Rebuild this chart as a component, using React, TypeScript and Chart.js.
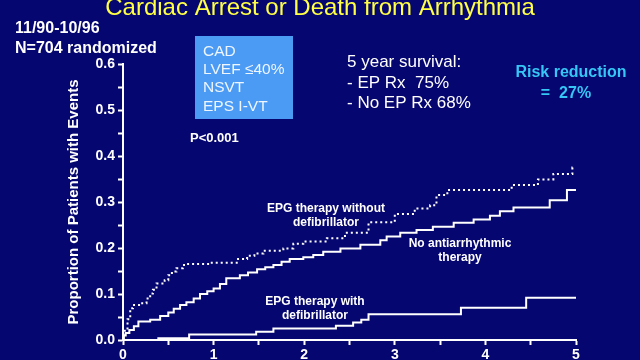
import React, { useEffect, useRef } from "react";
import { Chart, registerables } from "chart.js";

Chart.register(...registerables);

// Years of follow-up (x) and proportion of patients with events (y) at each step
const defibT = [0, 0.39, 0.73, 1.47, 1.66, 2.35, 2.54, 2.63, 2.71, 3.73, 4.45, 5.0];
const defibP = [0, 0.004, 0.012, 0.018, 0.025, 0.031, 0.038, 0.044, 0.056, 0.07, 0.092, 0.092];

const noRxT = [0, 0.01, 0.03, 0.07, 0.12, 0.17, 0.3, 0.41, 0.5, 0.56, 0.63, 0.7, 0.78, 0.85, 0.93, 1.0, 1.07, 1.14, 1.29, 1.38, 1.48, 1.57, 1.66, 1.75, 1.84, 1.99, 2.1, 2.21, 2.4, 2.62, 2.84, 2.91, 3.06, 3.24, 3.42, 3.65, 3.87, 4.05, 4.16, 4.31, 4.71, 4.9, 5.0];
const noRxP = [0, 0.01, 0.015, 0.022, 0.03, 0.04, 0.044, 0.052, 0.06, 0.068, 0.076, 0.082, 0.09, 0.1, 0.106, 0.112, 0.122, 0.134, 0.141, 0.147, 0.154, 0.158, 0.163, 0.17, 0.176, 0.18, 0.185, 0.192, 0.199, 0.207, 0.217, 0.225, 0.233, 0.239, 0.246, 0.255, 0.262, 0.27, 0.28, 0.288, 0.304, 0.326, 0.326];

const epgT = [0, 0.01, 0.02, 0.05, 0.08, 0.11, 0.2, 0.26, 0.3, 0.33, 0.37, 0.46, 0.5, 0.54, 0.59, 0.66, 0.7, 0.98, 1.27, 1.37, 1.45, 1.55, 1.77, 1.88, 1.99, 2.25, 2.45, 2.71, 3.0, 3.22, 3.39, 3.46, 3.58, 4.29, 4.58, 4.75, 4.96, 4.98];
const epgP = [0, 0.012, 0.025, 0.045, 0.069, 0.076, 0.08, 0.09, 0.101, 0.109, 0.123, 0.13, 0.141, 0.149, 0.156, 0.163, 0.165, 0.168, 0.176, 0.183, 0.188, 0.194, 0.199, 0.209, 0.214, 0.221, 0.233, 0.256, 0.274, 0.286, 0.293, 0.315, 0.326, 0.337, 0.349, 0.361, 0.375, 0.375];

const xMin = 0;
const xMax = 5;
const yMin = 0;
const yMax = 0.6;

const titleText = "Cardiac Arrest or Death from Arrhythmia";
const yAxisTitle = "Proportion of Patients with Events";
const headerLines = ["11/90-10/96", "N=704 randomized"];
const criteriaLines = ["CAD", "LVEF \u226440%", "NSVT", "EPS I-VT"];
const survivalLines = ["5 year survival:", "- EP Rx  75%", "- No EP Rx 68%"];
const riskLines = ["Risk reduction", "=  27%"];
const pValue = "P<0.001";
const epgLabel = ["EPG therapy without", "defibrillator"];
const noRxLabel = ["No antiarrhythmic", "therapy"];
const defibLabel = ["EPG therapy with", "defibrillator"];

const BG = "#060670";
const FONT = "'Liberation Sans', Arial, Helvetica, sans-serif";

const toPts = (t: number[], p: number[]) => t.map((x, i) => ({ x, y: p[i] }));

const annotations = {
  id: "annotations",
  beforeDraw(chart: any) {
    const ctx = chart.ctx;
    ctx.save();
    ctx.fillStyle = BG;
    ctx.fillRect(0, 0, chart.width, chart.height);
    ctx.restore();
  },
  afterDraw(chart: any) {
    const ctx = chart.ctx;
    ctx.save();

    // title
    ctx.fillStyle = "#ffff44";
    ctx.font = `24px ${FONT}`;
    ctx.textAlign = "center";
    ctx.textBaseline = "alphabetic";
    ctx.fillText(titleText, 320, 15);
    ctx.textBaseline = "middle";

    // header
    ctx.fillStyle = "#ffffff";
    ctx.font = `bold 16px ${FONT}`;
    ctx.textAlign = "left";
    ctx.fillText(headerLines[0], 15, 29);
    ctx.fillText(headerLines[1], 15, 49);

    // criteria box
    ctx.fillStyle = "#4b9bf5";
    ctx.fillRect(195, 36, 98, 83);
    ctx.fillStyle = "#eef6ff";
    ctx.font = `15.5px ${FONT}`;
    const cy = [51.5, 69.5, 88, 106.5];
    criteriaLines.forEach((s, i) => ctx.fillText(s, 203, cy[i]));

    // p value
    ctx.fillStyle = "#ffffff";
    ctx.font = `bold 13px ${FONT}`;
    ctx.fillText(pValue, 190, 138);

    // survival
    ctx.font = `17px ${FONT}`;
    const sy = [62, 83.5, 103.5];
    survivalLines.forEach((s, i) => ctx.fillText(s, 347, sy[i]));

    // risk reduction
    ctx.fillStyle = "#35c6f5";
    ctx.font = `bold 16px ${FONT}`;
    ctx.textAlign = "center";
    ctx.fillText(riskLines[0], 571, 72.5);
    ctx.fillText(riskLines[1], 566, 93.5);

    // curve labels
    ctx.fillStyle = "#ffffff";
    ctx.font = `bold 12px ${FONT}`;
    ctx.fillText(epgLabel[0], 326, 208.5);
    ctx.fillText(epgLabel[1], 326, 223);
    ctx.fillText(noRxLabel[0], 460, 243.5);
    ctx.fillText(noRxLabel[1], 460, 257.5);
    ctx.fillText(defibLabel[0], 315, 301.5);
    ctx.fillText(defibLabel[1], 315, 316);

    // y axis title
    ctx.font = `bold 15px ${FONT}`;
    ctx.translate(73.5, 202);
    ctx.rotate(-Math.PI / 2);
    ctx.fillText(yAxisTitle, 0, 0);
    ctx.restore();
  },
};

export default function App() {
  const ref = useRef<HTMLCanvasElement | null>(null);

  useEffect(() => {
    if (!ref.current) return;
    const common = {
      pointRadius: 0,
      pointHoverRadius: 0,
      borderColor: "#ffffff",
      borderWidth: 2,
      fill: false,
      stepped: true,
      tension: 0,
    };
    const chart = new Chart(ref.current, {
      type: "line",
      data: {
        datasets: [
          { ...common, label: "EPG therapy without defibrillator", data: toPts(epgT, epgP), borderDash: [2, 3] },
          { ...common, label: "No antiarrhythmic therapy", data: toPts(noRxT, noRxP) },
          { ...common, label: "EPG therapy with defibrillator", data: toPts(defibT, defibP) },
        ],
      },
      options: {
        animation: false,
        responsive: false,
        maintainAspectRatio: false,
        events: [],
        layout: { padding: { left: 0, top: 64, right: 64, bottom: 0 } },
        plugins: {
          legend: { display: false },
          tooltip: { enabled: false },
          title: { display: false },
        },
        scales: {
          x: {
            type: "linear",
            min: xMin,
            max: xMax,
            afterFit: (s: any) => {
              s.height = 20;
            },
            border: { display: true, color: "#ffffff", width: 2 },
            grid: {
              display: true,
              drawOnChartArea: false,
              drawTicks: true,
              tickLength: 5,
              tickColor: "#ffffff",
              tickWidth: 2,
              color: "#ffffff",
            },
            ticks: {
              stepSize: 0.5,
              autoSkip: false,
              maxRotation: 0,
              padding: 2,
              color: "#ffffff",
              font: { family: FONT, size: 14, weight: "bold" },
              callback: (v: any) => (Number.isInteger(v) ? String(v) : ""),
            },
          },
          y: {
            type: "linear",
            min: yMin,
            max: yMax,
            afterFit: (s: any) => {
              s.width = 123;
            },
            border: { display: true, color: "#ffffff", width: 2 },
            grid: {
              display: true,
              drawOnChartArea: false,
              drawTicks: true,
              tickLength: 5,
              tickColor: "#ffffff",
              tickWidth: 2,
              color: "#ffffff",
            },
            ticks: {
              stepSize: 0.05,
              autoSkip: false,
              padding: 3,
              color: "#ffffff",
              font: { family: FONT, size: 14, weight: "bold" },
              callback: (v: any) => (Math.round(v * 100) % 10 === 0 ? Number(v).toFixed(1) : ""),
            },
          },
        },
      },
      plugins: [annotations],
    } as any);
    return () => chart.destroy();
  }, []);

  return (
    <div style={{ position: "fixed", left: 0, top: 0, width: 640, height: 360, background: BG }}>
      <canvas ref={ref} width={640} height={360} style={{ display: "block" }} />
    </div>
  );
}
